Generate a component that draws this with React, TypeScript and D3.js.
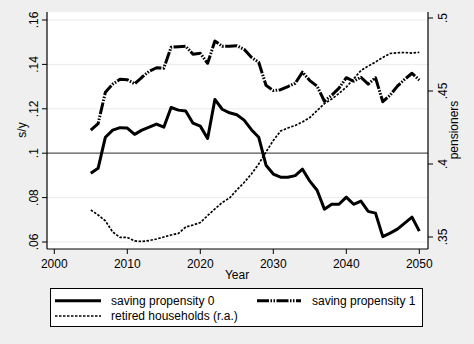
import React from "react";
import * as d3 from "d3";

const years: number[] = d3.range(2005, 2051);

const savingProp0: number[] = [
  0.091, 0.0932, 0.1072, 0.1104, 0.1115, 0.1113, 0.1085, 0.1104, 0.1117, 0.1131,
  0.1117, 0.1206, 0.1194, 0.119, 0.1135, 0.1122, 0.1066, 0.1242, 0.1198, 0.1182,
  0.1173, 0.1149, 0.1106, 0.1072, 0.0946, 0.0906, 0.0892, 0.0892, 0.0899, 0.0928,
  0.0874, 0.0833, 0.0748, 0.077, 0.077, 0.0802, 0.077, 0.0784, 0.0738, 0.073,
  0.0624, 0.064, 0.0658, 0.0685, 0.0712, 0.0649,
];

const savingProp1: number[] = [
  0.1104, 0.1133, 0.1275, 0.1311, 0.1333, 0.1331, 0.1313, 0.1342, 0.1369, 0.1385,
  0.1383, 0.1477, 0.148, 0.1482, 0.1446, 0.145, 0.1405, 0.1505, 0.1482, 0.1482,
  0.1484, 0.1468, 0.1432, 0.141, 0.1306, 0.1282, 0.1286, 0.13, 0.1315, 0.1365,
  0.1327, 0.1302, 0.1234, 0.1261, 0.1293, 0.134, 0.1324, 0.1342, 0.1311, 0.134,
  0.1232, 0.1261, 0.1302, 0.1333, 0.136, 0.1329,
];

const retired: number[] = [
  0.3685, 0.3651, 0.361, 0.3534, 0.3497, 0.3497, 0.3473, 0.3469, 0.3476, 0.3486,
  0.35, 0.3514, 0.3524, 0.3568, 0.3582, 0.3599, 0.3647, 0.3692, 0.3736, 0.3767,
  0.3822, 0.3873, 0.3932, 0.4, 0.4082, 0.4161, 0.4226, 0.4247, 0.4264, 0.4288,
  0.4318, 0.4366, 0.4414, 0.4445, 0.4483, 0.4527, 0.4582, 0.464, 0.4671, 0.4699,
  0.473, 0.4757, 0.4762, 0.4764, 0.476, 0.4765,
];

const xTicks: number[] = [2000, 2010, 2020, 2030, 2040, 2050];
const yLeftTicks: number[] = [0.06, 0.08, 0.1, 0.12, 0.14, 0.16];
const yLeftLabels: string[] = [".06", ".08", ".1", ".12", ".14", ".16"];
const yRightTicks: number[] = [0.35, 0.4, 0.45, 0.5];
const yRightLabels: string[] = [".35", ".4", ".45", ".5"];
const legendLabels: string[] = ["saving propensity 0", "saving propensity 1", "retired households (r.a.)"];

const W = 474;
const H = 344;
const PL = 47, PR = 428, PT = 12, PB = 249;
const FONT = "'Liberation Sans', Arial, Helvetica, sans-serif";

const DASHDOT = "12,1.5,1.5,1.5,1.5,1.5";
const DOTTED = "2.5,1.5";

export default function App() {
  const x = d3.scaleLinear().domain([2000, 2050]).range([54.3, 419.3]);
  const yL = d3.scaleLinear().domain([0.06, 0.16]).range([242, 20]);
  const yR = d3.scaleLinear().domain([0.35, 0.5]).range([237, 18]);

  const lineL = d3.line<number>().x((_, i) => x(years[i])).y((d) => yL(d));
  const lineR = d3.line<number>().x((_, i) => x(years[i])).y((d) => yR(d));

  return (
    <svg
      width={W}
      height={H}
      style={{ position: "absolute", left: 0, top: 0, fontFamily: FONT }}
    >
      <rect x={0} y={0} width={W} height={H} fill="#efefef" />
      <rect x={PL} y={PT} width={PR - PL} height={PB - PT} fill="#ffffff" />
      {yLeftTicks.filter((t) => t !== 0.1).map((t) => (
        <line key={"g" + t} x1={PL} x2={PR} y1={yL(t)} y2={yL(t)} stroke="#ebebeb" strokeWidth={1} />
      ))}
      <line x1={PL} x2={PR} y1={yL(0.1)} y2={yL(0.1)} stroke="#555" strokeWidth={1.3} />
      <path d={lineR(retired) || ""} fill="none" stroke="#000" strokeWidth={1.7} strokeDasharray={DOTTED} />
      <path d={lineL(savingProp1) || ""} fill="none" stroke="#000" strokeWidth={3} strokeDasharray={DASHDOT} strokeLinejoin="round" />
      <path d={lineL(savingProp0) || ""} fill="none" stroke="#000" strokeWidth={3} strokeLinejoin="round" />
      <line x1={PL} x2={PL} y1={PT} y2={PB} stroke="#000" strokeWidth={1.2} />
      <line x1={PR} x2={PR} y1={PT} y2={PB} stroke="#000" strokeWidth={1.2} />
      <line x1={PL} x2={PR} y1={PB} y2={PB} stroke="#000" strokeWidth={1.2} />
      {xTicks.map((t) => (
        <g key={"x" + t}>
          <line x1={x(t)} x2={x(t)} y1={PB} y2={PB + 5} stroke="#000" strokeWidth={1} />
          <text x={x(t)} y={268} fontSize={12} textAnchor="middle" fill="#000">{t}</text>
        </g>
      ))}
      {yLeftTicks.map((t, i) => (
        <g key={"yl" + t}>
          <line x1={PL - 5} x2={PL} y1={yL(t)} y2={yL(t)} stroke="#000" strokeWidth={1} />
          <text transform={`translate(37.5,${yL(t)}) rotate(-90)`} fontSize={12} textAnchor="middle" fill="#000">{yLeftLabels[i]}</text>
        </g>
      ))}
      {yRightTicks.map((t, i) => (
        <g key={"yr" + t}>
          <line x1={PR} x2={PR + 5} y1={yR(t)} y2={yR(t)} stroke="#000" strokeWidth={1} />
          <text transform={`translate(446.5,${yR(t)}) rotate(-90)`} fontSize={12} textAnchor="middle" fill="#000">{yRightLabels[i]}</text>
        </g>
      ))}
      <text transform={`translate(26,130) rotate(-90)`} fontSize={12} textAnchor="middle" fill="#000">s/y</text>
      <text transform={`translate(458,130) rotate(-90)`} fontSize={12} textAnchor="middle" fill="#000">pensioners</text>
      <text x={237} y={279} fontSize={12} textAnchor="middle" fill="#000">Year</text>
      <rect x={50.5} y={288.5} width={372} height={38} fill="#fff" stroke="#000" strokeWidth={1} />
      <line x1={55} x2={101} y1={300.7} y2={300.7} stroke="#000" strokeWidth={3} />
      <text x={111} y={305} fontSize={12} fill="#000">{legendLabels[0]}</text>
      <line x1={257} x2={301} y1={300.7} y2={300.7} stroke="#000" strokeWidth={3} strokeDasharray={DASHDOT} />
      <text x={312} y={305} fontSize={12} fill="#000">{legendLabels[1]}</text>
      <line x1={55} x2={101} y1={316} y2={316} stroke="#000" strokeWidth={1.7} strokeDasharray={DOTTED} />
      <text x={111} y={320.3} fontSize={12} fill="#000">{legendLabels[2]}</text>
    </svg>
  );
}
